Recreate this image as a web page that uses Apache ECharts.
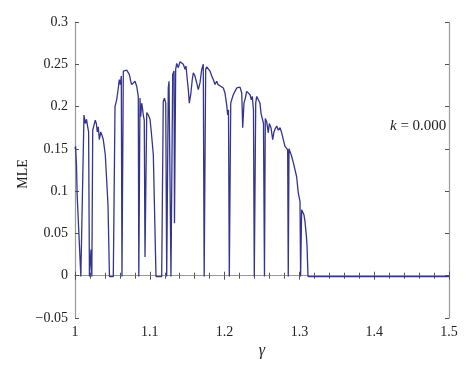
<!DOCTYPE html>
<html>
<head>
<meta charset="utf-8">
<script src="https://cdn.jsdelivr.net/npm/echarts@6/dist/echarts.min.js"></script>
<style>html,body{margin:0;padding:0;background:#fff;}#c{width:474px;height:372px;}</style>
</head>
<body>
<div id="c"></div>
<script>
const gamma = [1.0000,1.0008,1.0020,1.0029,1.0078,1.0104,1.0120,1.0138,1.0154,1.0168,1.0182,1.0193,1.0205,1.0214,1.0225,1.0237,1.0254,1.0271,1.0285,1.0298,1.0311,1.0325,1.0344,1.0361,1.0378,1.0392,1.0405,1.0441,1.0461,1.0512,1.0535,1.0557,1.0579,1.0592,1.0606,1.0619,1.0628,1.0646,1.0668,1.0691,1.0713,1.0726,1.0745,1.0758,1.0779,1.0802,1.0825,1.0846,1.0853,1.0869,1.0878,1.0892,1.0905,1.0913,1.0926,1.0936,1.0959,1.0980,1.1003,1.1020,1.1047,1.1083,1.1159,1.1180,1.1196,1.1213,1.1226,1.1247,1.1257,1.1270,1.1283,1.1306,1.1324,1.1330,1.1346,1.1360,1.1381,1.1404,1.1426,1.1448,1.1471,1.1484,1.1501,1.1515,1.1528,1.1547,1.1568,1.1582,1.1604,1.1627,1.1648,1.1671,1.1694,1.1715,1.1727,1.1747,1.1761,1.1782,1.1805,1.1828,1.1849,1.1872,1.1894,1.1912,1.1929,1.1948,1.1969,1.1983,1.2005,1.2028,1.2041,1.2052,1.2063,1.2082,1.2095,1.2116,1.2139,1.2162,1.2183,1.2206,1.2229,1.2242,1.2259,1.2277,1.2295,1.2317,1.2340,1.2357,1.2370,1.2386,1.2397,1.2416,1.2429,1.2451,1.2473,1.2487,1.2504,1.2520,1.2533,1.2544,1.2563,1.2584,1.2598,1.2620,1.2643,1.2660,1.2678,1.2697,1.2718,1.2741,1.2763,1.2785,1.2807,1.2830,1.2843,1.2851,1.2861,1.2874,1.2897,1.2918,1.2941,1.2963,1.2985,1.3008,1.3016,1.3030,1.3043,1.3061,1.3075,1.3094,1.3102,1.3107,1.3115,1.35,1.40,1.45,1.50];
const mle = [0.150,0.153,0.130,0.095,-0.001,-0.001,0.190,0.180,0.185,0.177,0.170,-0.001,-0.001,0.031,-0.001,0.172,0.178,0.184,0.180,0.170,0.176,0.161,0.170,0.166,0.161,0.159,0.143,0.084,-0.001,-0.001,0.200,0.208,0.222,0.232,0.226,0.236,-0.001,0.242,0.244,0.243,0.244,0.238,0.230,0.226,0.228,0.230,0.224,0.212,-0.001,0.210,0.188,0.204,0.196,0.190,0.184,0.022,0.193,0.190,0.185,0.170,0.143,-0.001,-0.001,0.206,0.210,0.204,-0.001,0.222,0.230,0.232,-0.001,0.238,0.242,0.062,0.244,0.251,0.246,0.253,0.254,0.250,0.244,0.248,0.232,0.220,0.204,0.214,0.232,0.240,0.236,0.228,0.220,0.228,0.244,0.250,-0.001,0.244,0.247,0.245,0.242,0.236,0.232,0.226,0.230,0.226,0.228,0.224,0.226,0.222,0.216,0.202,0.190,0.196,-0.001,0.204,0.208,0.214,0.218,0.222,0.220,0.223,0.216,0.175,0.204,0.210,0.218,0.216,0.214,0.208,0.212,0.196,-0.001,0.204,0.212,0.208,0.204,0.192,0.190,0.180,-0.001,0.186,0.182,0.169,0.180,0.175,0.161,0.170,0.174,0.177,0.172,0.175,0.169,0.161,0.153,0.151,0.149,-0.001,0.150,0.147,0.141,0.134,0.135,0.117,0.098,0.088,-0.001,0.078,0.076,0.072,0.064,0.046,0.035,0.036,-0.001,-0.001,-0.001,-0.001,-0.001];
const xTicks = [1, 1.1, 1.2, 1.3, 1.4, 1.5];
const yTicks = [-0.05, 0, 0.05, 0.1, 0.15, 0.2, 0.25, 0.3];
const annotation = 'k = 0.000';

const chart = echarts.init(document.getElementById('c'), null, {renderer: 'canvas'});
const font = 'Liberation Serif';
const axisCol = '#999999';
const fmt = v => String(+(+v).toFixed(2)).replace('-', '\u2212');
const xBase = {
  type: 'value', min: xTicks[0], max: xTicks[xTicks.length - 1], interval: 0.1,
  axisLine: {show: true, lineStyle: {color: axisCol, width: 1.2}},
  axisTick: {show: true, inside: true, length: 4, lineStyle: {color: '#555'}},
  minorTick: {show: true, splitNumber: 5, length: 3, lineStyle: {color: '#555'}},
  splitLine: {show: false}
};
const yBase = {
  type: 'value', min: yTicks[0], max: yTicks[yTicks.length - 1], interval: 0.05,
  axisLine: {show: true, lineStyle: {color: axisCol, width: 1.2}},
  axisTick: {show: true, inside: true, length: 4, lineStyle: {color: '#555'}},
  splitLine: {show: false}
};
chart.setOption({
  animation: false,
  backgroundColor: '#fff',
  grid: {left: 75, right: 25, top: 22, bottom: 54},
  xAxis: [
    Object.assign({}, xBase, {
      position: 'bottom',
      axisLabel: {show: true, formatter: fmt, fontFamily: font, fontSize: 14, color: '#222', margin: 7},
      name: '\u03b3', nameLocation: 'middle', nameGap: 25, nameMoveOverlap: false,
      nameTextStyle: {fontFamily: font, fontStyle: 'italic', fontSize: 16, color: '#222'}
    }),
    Object.assign({}, xBase, {position: 'top', axisLabel: {show: false}})
  ],
  yAxis: [
    Object.assign({}, yBase, {
      position: 'left',
      axisLabel: {show: true, formatter: fmt, fontFamily: font, fontSize: 14, color: '#222', margin: 7},
      name: 'MLE', nameLocation: 'middle', nameGap: 45, nameMoveOverlap: false,
      nameTextStyle: {fontFamily: font, fontSize: 14, color: '#222', padding: [0, 0, 0, -8]}
    }),
    Object.assign({}, yBase, {position: 'right', axisLabel: {show: false}})
  ],
  graphic: [{
    type: 'text', left: 390, top: 119,
    style: {
      text: '{i|k} = 0.000',
      rich: {i: {fontFamily: font, fontStyle: 'italic', fontSize: 15, fill: '#222'}},
      font: '15px "Liberation Serif"', fill: '#222'
    }
  }],
  series: [{
    type: 'line', xAxisIndex: 0, yAxisIndex: 0,
    data: gamma.map((g, i) => [g, mle[i]]),
    showSymbol: false, symbol: 'none',
    lineStyle: {color: '#34348f', width: 1.3},
    clip: true
  }]
});
</script>
</body>
</html>
